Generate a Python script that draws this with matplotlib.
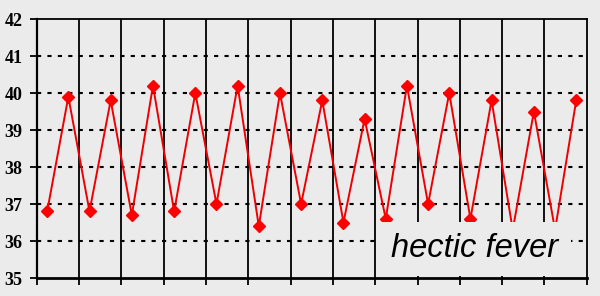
import matplotlib.pyplot as plt
from matplotlib.patches import Rectangle
import numpy as np

# temperature readings, two per day (morning low / evening high)
temps = [36.8, 39.9, 36.8, 39.8, 36.7, 40.2, 36.8, 40.0, 37.0, 40.2,
         36.4, 40.0, 37.0, 39.8, 36.5, 39.3, 36.6, 40.2, 37.0, 40.0,
         36.6, 39.8, 36.3, 39.5, 36.3, 39.8]
n_days = 13
y_ticks = [35, 36, 37, 38, 39, 40, 41, 42]
label = "hectic fever"

bg = "#ebebeb"

times = np.arange(len(temps)) * 0.5 + 0.25

fig = plt.figure(figsize=(6, 2.96), dpi=100, facecolor=bg)
ax = fig.add_axes([0.061, 0.0608, 0.917, 0.875])
ax.set_facecolor(bg)

# dotted horizontal grid
for y in y_ticks[1:-1]:
    ax.axhline(y, color="black", lw=1.5, ls=(0, (2, 3)), zorder=1)
# solid day separators
for d in range(1, n_days):
    ax.axvline(d, color="black", lw=1.3, zorder=1)

ax.plot(times, temps, color="#ee0000", lw=1.4, marker="D", ms=6.5,
        mfc="#ff0000", mec="#ff0000", zorder=3)

# label box hides the lower right corner
ax.add_patch(Rectangle((8.05, 35.06), 4.58, 1.45, facecolor=bg,
                       edgecolor="none", zorder=4))
ax.text(10.34, 35.8, label, fontsize=23.5, style="italic",
        family="Liberation Sans", ha="center", va="center", zorder=5)

ax.set_xlim(0, n_days)
ax.set_ylim(35, 42)
ax.set_yticks(y_ticks)
ax.set_yticklabels([str(t) for t in y_ticks], fontsize=13,
                   fontweight="bold", family="Liberation Serif")
ax.set_xticks(range(n_days + 1))
ax.set_xticklabels([])
ax.tick_params(axis="y", length=5, width=1.3, pad=5)
ax.tick_params(axis="x", length=5, width=1.3)

for s in ["top", "right"]:
    ax.spines[s].set_linewidth(1.3)
ax.spines["left"].set_linewidth(1.6)
ax.spines["bottom"].set_linewidth(2)

fig.savefig("out.png", dpi=100, facecolor=bg)
